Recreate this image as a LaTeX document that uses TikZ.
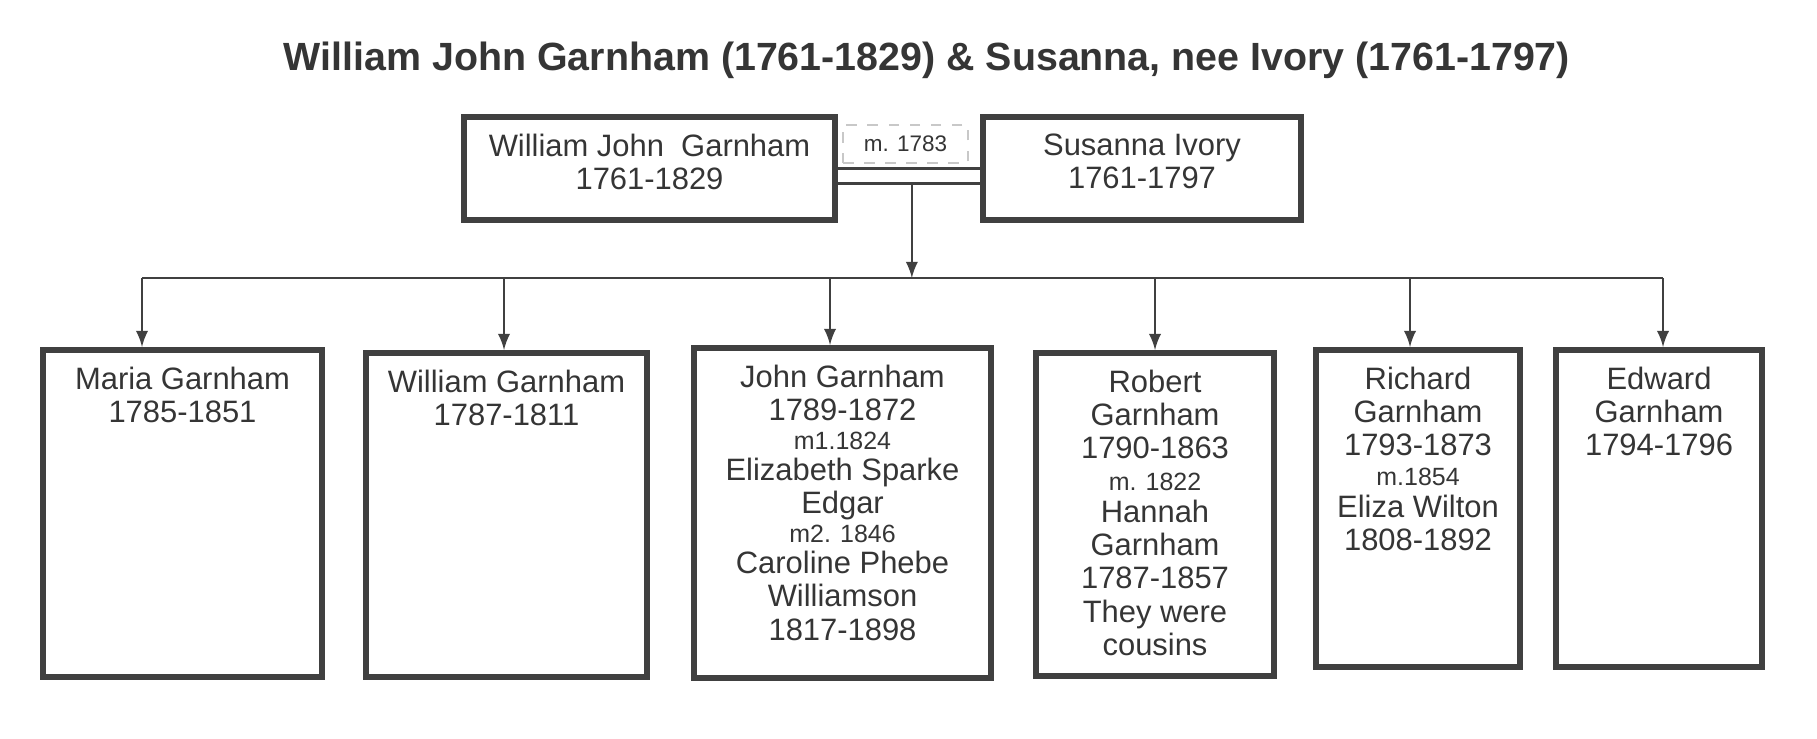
\documentclass[tikz,border=0pt]{standalone}
\usepackage{fontspec}
\setmainfont{Liberation Sans}
\usetikzlibrary{positioning}
\definecolor{ink}{HTML}{353535}
\definecolor{frame}{HTML}{404040}
\definecolor{faint}{HTML}{C8C8C8}
\newcommand{\sm}[1]{{\fontsize{7.1}{8.2}\selectfont #1}}

\begin{document}
\begin{tikzpicture}[>=latex,
		person/.style={draw=frame, line width=1.7pt, inner sep=0pt},
		persontext/.style={align=center, inner sep=0pt, text=ink, font=\fontsize{8.8}{9.5}\selectfont},
		link/.style={draw=frame, line width=0.6pt}]
		\useasboundingbox (0,0) rectangle (18.17,7.38);
		% title
		\node[anchor=base, text=ink, inner sep=0pt, font=\fontsize{11.2}{13}\selectfont\bfseries] (title) at (9.27,6.68)
			{William John Garnham (1761-1829) \& Susanna, nee Ivory (1761-1797)};
		% parents
		\node[person, minimum width=3.71cm, minimum height=1.03cm] (wjg) at (6.495,5.695) {};
		\node[person, minimum width=3.18cm, minimum height=1.03cm] (susanna) at (11.42,5.695) {};
		\node[persontext, below=0.19cm of wjg.north] (wjg-txt) {William John\ \ Garnham\\1761-1829};
		\node[persontext, below=0.19cm of susanna.north] (susanna-txt) {Susanna Ivory\\1761-1797};
		\node[draw=faint, dashed, line width=0.4pt, minimum width=1.25cm, minimum height=0.38cm, inner sep=0pt,
			text=ink, font=\fontsize{6.4}{7}\selectfont] (wed-label) at (9.055,5.94) {m. 1783};
		\draw[link] (wjg.east) -- (susanna.west);
		\draw[link] ([yshift=-0.15cm]wjg.east) -- ([yshift=-0.15cm]susanna.west) coordinate[pos=0.52] (wed);
		% children
		\node[person, minimum width=2.79cm, minimum height=3.27cm] (maria) at (1.825,2.245) {};
		\node[person, minimum width=2.81cm, minimum height=3.24cm] (william) at (5.065,2.23) {};
		\node[person, minimum width=2.97cm, minimum height=3.30cm] (john) at (8.425,2.25) {};
		\node[person, minimum width=2.38cm, minimum height=3.23cm] (robert) at (11.55,2.235) {};
		\node[person, minimum width=2.04cm, minimum height=3.17cm] (richard) at (14.18,2.295) {};
		\node[person, minimum width=2.06cm, minimum height=3.17cm] (edward) at (16.59,2.295) {};
		\node[persontext, below=0.19cm of maria.north] (maria-txt) {Maria Garnham\\1785-1851};
		\node[persontext, below=0.19cm of william.north] (william-txt) {William Garnham\\1787-1811};
		\node[persontext, below=0.19cm of john.north] (john-txt) {John Garnham\\1789-1872\\[-1.2pt]\sm{m1.1824}\\[-0.8pt]Elizabeth Sparke\\Edgar\\[-1.2pt]\sm{m2. 1846}\\[-0.8pt]Caroline Phebe\\Williamson\\1817-1898};
		\node[persontext, below=0.19cm of robert.north] (robert-txt) {Robert\\Garnham\\1790-1863\\[-0.6pt]\sm{m. 1822}\\[-0.4pt]Hannah\\Garnham\\1787-1857\\They were\\cousins};
		\node[persontext, below=0.19cm of richard.north] (richard-txt) {Richard\\Garnham\\1793-1873\\[-1pt]\sm{m.1854}\\[-0.6pt]Eliza Wilton\\1808-1892};
		\node[persontext, below=0.19cm of edward.north] (edward-txt) {Edward\\Garnham\\1794-1796};
		% descent lines
		\coordinate (k1) at (1.42,4.60);
		\coordinate (k2) at (5.04,4.60);
		\coordinate (k3) at (8.30,4.60);
		\coordinate (k4) at (11.55,4.60);
		\coordinate (k5) at (14.10,4.60);
		\coordinate (k6) at (16.63,4.60);
		\draw[link, ->] (wed) -- (wed |- k1);
		\draw[link] (k1) -- (k6);
		\foreach \k/\c in {k1/maria, k2/william, k3/john, k4/robert, k5/richard, k6/edward}
			\draw[link, ->] (\k) -- (\k |- \c.north);
	\end{tikzpicture}
\end{document}
